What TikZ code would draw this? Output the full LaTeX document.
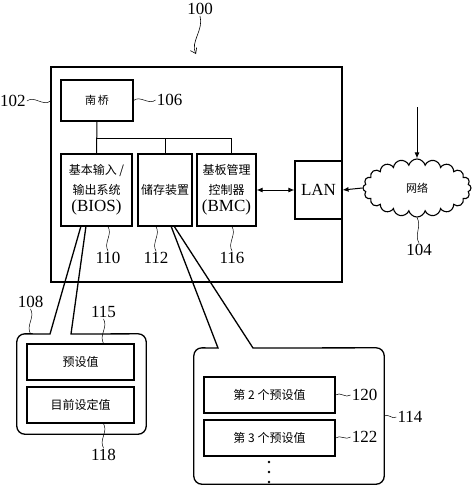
\documentclass[tikz,border=0pt]{standalone}
\usepackage{fontspec}
\setmainfont{Liberation Serif}
\newfontfamily\cjk{Noto Sans CJK SC}
\usetikzlibrary{shapes.symbols, arrows.meta}

\begin{document}
\begin{tikzpicture}[
        x = 1pt, y = -1pt,
      box/.style = {draw=black, line width=1.1pt, inner sep=0pt, align=center},
       zh/.style = {font=\cjk\fontsize{12}{20}\selectfont},
      num/.style = {inner sep=1pt, font=\fontsize{17}{17}\selectfont},
     lead/.style = {line width=0.5pt, out=40, in=220},
    vlead/.style = {line width=0.5pt, out=-60, in=120},
    wedge/.style = {line width=1.3pt},
      tip/.style = {line width=1pt, >={Latex[length=6pt, width=5pt]}}
                    ]
\useasboundingbox (0,0) rectangle (474,488);

\node[box, minimum width=291pt, minimum height=215pt] (sys) at (196.5,174.5) {};
\node[box, zh, font=\cjk\fontsize{11}{11}\selectfont, minimum width=72pt, minimum height=41pt] (sb) at (97,100.5) {南\,桥};
\node[box, zh, minimum width=71pt, minimum height=72pt] (bios) at (96.5,190) {基本输入 /\\输出系统\\[-3pt]{\rmfamily\fontsize{17}{17}\selectfont (BIOS)}};
\node[box, zh, minimum width=54pt, minimum height=72pt] (stor) at (165,190) {储存装置};
\node[box, zh, minimum width=59pt, minimum height=72pt] (bmc) at (226.5,190) {基板管理\\控制器\\[-3pt]{\rmfamily\fontsize{17}{17}\selectfont (BMC)}};
\node[box, font=\fontsize{17}{17}\selectfont, minimum width=47pt, minimum height=58pt] (lan) at (318.5,190) {LAN};
\node[cloud, draw=black, line width=1.1pt, cloud puffs=20, cloud ignores aspect, minimum width=108pt, minimum height=58pt, inner sep=0pt, font=\cjk\fontsize{11}{11}\selectfont] (net) at (417,188) {网络};

\node[minimum width=129pt, minimum height=100pt] (cfg) at (81.5,384) {};
\node[box, zh, minimum width=107pt, minimum height=36pt] (preset) at (80.5,362) {预设值};
\node[box, zh, minimum width=107pt, minimum height=36pt] (cur) at (80.5,405) {目前设定值};

\node[minimum width=190pt, minimum height=136pt] (pre) at (289,416) {};
\node[box, zh, minimum width=131pt, minimum height=36pt] (p2) at (269.5,395) {第 2 个预设值};
\node[box, zh, minimum width=131pt, minimum height=36pt] (p3) at (269.5,438) {第 3 个预设值};

\node[num] (n100) at (200,9) {100};
\node[num] (n102) at (13,101) {102};
\node[num] (n106) at (169.5,100) {106};
\node[num] (n110) at (108,258) {110};
\node[num] (n112) at (156,258) {112};
\node[num] (n116) at (232,258) {116};
\node[num] (n104) at (419,250) {104};
\node[num] (n108) at (30.5,302) {108};
\node[num] (n115) at (103.5,312) {115};
\node[num] (n118) at (103.5,455) {118};
\node[num] (n120) at (364.5,395) {120};
\node[num] (n122) at (364.5,437) {122};
\node[num] (n114) at (410,417) {114};

% bus from the south bridge
\coordinate (bus) at (97,138);
\coordinate (bmcin) at (231,154);
\draw[line width=1pt] (sb.south) -- (bios.north);
\draw[line width=1pt] (bus) -| (stor.north);
\draw[line width=1pt] (bus) -| (bmcin);

% links
\draw[tip, <->] (bmc) -- (lan);
\draw[tip, ->] (net.west) -- (lan.east);
\coordinate (feed) at (417,107);
\draw[tip, ->] (feed) -- (net.north);
\coordinate (aim) at (196,54);
\draw[line width=0.6pt, -{Straight Barb[length=5pt, width=7pt]}] (n100.south) .. controls (204,30) and (190,42) .. (aim);

% callouts
\draw[wedge] (81,226) -- (50,334) [rounded corners=8pt] -- (cfg.north west) -- (cfg.south west) -- (cfg.south east) -- (cfg.north east) [sharp corners] -- (71,334) -- (86,226);
\draw[wedge] (171,226) -- (218,348) [rounded corners=8pt] -- (pre.north west) -- (pre.south west) -- (pre.south east) -- (pre.north east) [sharp corners] -- (253,348) -- (174,226);
\foreach \y in {462,472,482} \fill (269,\y) circle (1.3pt);

% reference leads
\path (n102.east) edge[lead] (n102.east -| sys.west);
\path (sb.east) edge[lead] (n106.west);
\path (n110.north |- bios.south) edge[vlead] (n110.north);
\path (n112.north |- stor.south) edge[vlead] (n112.north);
\path (n116.north |- bmc.south) edge[vlead] (n116.north);
\path (net.south) edge[vlead] (n104.north);
\path (n108.south) edge[vlead] (n108.south |- cfg.north);
\path (n115.south) edge[vlead] (n115.south |- preset.north);
\path (n118.north |- cur.south) edge[vlead] (n118.north);
\path (p2.east) edge[lead] (n120.west);
\path (p3.east) edge[lead] (n122.west);
\path (pre.east) edge[lead] (n114.west);

\end{tikzpicture}
\end{document}
